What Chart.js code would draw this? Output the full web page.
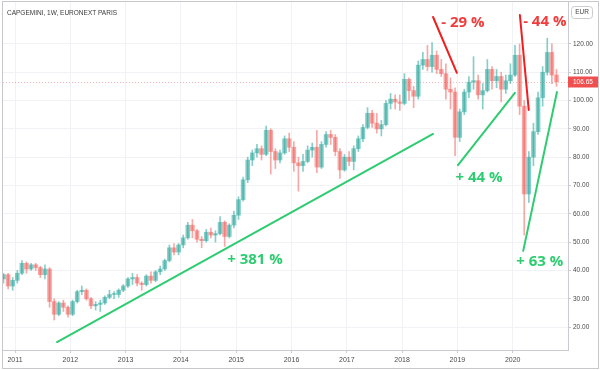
<!DOCTYPE html>
<html>
<head>
<script src="https://cdn.jsdelivr.net/npm/chart.js@4.4.0/dist/chart.umd.min.js"></script>
<style>
body { margin: 0; background: #ffffff; }
</style>
</head>
<body>

<canvas id="priceCanvas" width="600" height="370"></canvas>

<script>
// monthly candles, Oct 2010 .. Oct 2020
var firstYear = 2010;
var firstMonth = 10;

var opens = [
	37, 38.5, 34.5,
	36.5, 39, 42.5, 40.5, 42, 41, 38.5, 40.5, 29, 24.5, 28.5, 27,
	24.5, 29, 32.5, 33, 30, 27.5, 28, 28.5, 30.5, 31.5, 31.5, 33,
	34.5, 37, 37.5, 35.5, 35, 38, 36.5, 39.5, 40.5, 43.5, 48, 46.5,
	49, 51.5, 56, 54, 51, 50.5, 53.5, 52.5, 53, 57, 52, 56,
	59.5, 65, 72, 79, 81.5, 83, 81, 89.5, 82, 79, 81.5, 86.5,
	83.5, 78, 77, 78.5, 82.5, 83.5, 76.5, 84.5, 88, 87, 82, 75.5,
	80, 78.5, 83, 86.5, 90.5, 95.5, 92, 90, 91.5, 99, 100.5, 99.5,
	99, 107.5, 103.5, 101.5, 112.5, 114.5, 112, 116, 111, 109.5, 104, 103,
	87, 96, 103, 106.5, 107, 102, 103.5, 111, 107, 108.5, 104, 107,
	109, 116, 98, 67, 80, 89, 101, 110, 117, 109
];
var highs = [
	39, 39, 37.5,
	40, 43.5, 43, 42.5, 42.5, 41.5, 42, 41, 30, 29, 29.5, 27.5,
	29.5, 33, 34.5, 33.5, 30.5, 29, 29.5, 31, 33, 32.5, 33.5, 35,
	37.5, 39, 38.5, 36, 38.5, 39.5, 40, 41.5, 44, 49, 49.5, 49.5,
	52.5, 57, 58, 54.5, 52, 54.5, 55, 54, 59, 57.5, 56.5, 61,
	66, 73, 80, 82.5, 84.5, 84, 91, 90, 83, 82.5, 87.5, 88.5,
	85.5, 80, 81, 84, 85, 89.5, 85.5, 89, 89.5, 88, 83, 81,
	82, 84, 87.5, 91.5, 97.5, 96.5, 95.5, 93, 100, 102.5, 102, 102,
	109.5, 108, 105, 114, 117, 119.5, 120.5, 117.5, 114.5, 113, 108, 104.5,
	97, 104, 108.5, 115.5, 109, 106, 114.5, 112, 111, 110, 109, 113,
	119.5, 120, 100, 82, 92, 103, 112, 122, 120, 111
];
var lows = [
	35.5, 33.5, 33,
	35.5, 38.5, 39, 40, 40, 37.5, 37, 27, 22.5, 24, 25.5, 23.5,
	24, 28.5, 31.5, 29.5, 26.5, 26, 25.5, 28, 30, 30, 30.5, 32.5,
	34, 35, 34.5, 33, 34.5, 35.5, 36, 38.5, 40, 43, 45.5, 45.5,
	48, 51, 51.5, 50, 48, 50, 51.5, 50, 52.5, 48.5, 51.5, 55,
	58, 64.5, 71, 77, 80, 79, 80.5, 74, 76, 78, 81, 82,
	75, 68, 75, 78, 80, 74.5, 76, 83.5, 84.5, 80.5, 72.5, 75,
	77, 75.5, 82, 85.5, 90, 90.5, 88.5, 87.5, 91, 97, 97, 96.5,
	98.5, 100, 97.5, 100.5, 111, 110.5, 110, 109.5, 108.5, 100.5, 97, 80.5,
	85.5, 95, 101, 104, 100.5, 97, 103, 104, 104.5, 99.5, 102.5, 106,
	108.5, 95, 52.5, 64, 77, 88, 98, 109, 106, 105
];
var closes = [
	38.5, 34.5, 36.5,
	39, 42.5, 40.5, 42, 41, 38.5, 40.5, 29, 24.5, 28.5, 27, 24.5,
	29, 32.5, 33, 30, 27.5, 28, 28.5, 30.5, 31.5, 31.5, 33, 34.5,
	37, 37.5, 35.5, 35, 38, 36.5, 39.5, 40.5, 43.5, 48, 46.5, 49,
	51.5, 56, 54, 51, 50.5, 53.5, 52.5, 53, 57, 52, 56, 59.5,
	65, 72, 79, 81.5, 83, 81, 89.5, 82, 79, 81.5, 86.5, 83.5,
	78, 77, 78.5, 82.5, 83.5, 76.5, 84.5, 88, 87, 82, 75.5, 80,
	78.5, 83, 86.5, 90.5, 95.5, 92, 90, 91.5, 99, 100.5, 99.5, 99,
	107.5, 103.5, 101.5, 112.5, 114.5, 112, 116, 111, 109.5, 104, 103, 87,
	96, 103, 106.5, 107, 102, 103.5, 111, 107, 108.5, 104, 107, 109,
	116, 98, 67, 80, 89, 101, 110, 117, 109, 106.65
];

var yearTicks = [2011, 2012, 2013, 2014, 2015, 2016, 2017, 2018, 2019, 2020];
var priceTicks = [20, 30, 40, 50, 60, 70, 80, 90, 100, 110, 120];
var lastPrice = 106.65;

// hand drawn trend lines, [year, price]
var trendLines = [
	{ from: [2011.76, 14.7], to: [2018.56, 88.2], color: "#2ecc71" },
	{ from: [2019.01, 77.2], to: [2020.04, 102.7], color: "#2ecc71" },
	{ from: [2020.19, 46.9], to: [2020.80, 103.0], color: "#2ecc71" },
	{ from: [2018.56, 129.5], to: [2018.99, 109.8], color: "#f01e1e" },
	{ from: [2020.13, 130.2], to: [2020.29, 96.7], color: "#f01e1e" }
];
var trendLabels = [
	{ text: "+ 381 %", at: [2015.34, 43.7], color: "#2ecc71" },
	{ text: "+ 44 %", at: [2019.39, 72.7], color: "#2ecc71" },
	{ text: "+ 63 %", at: [2020.49, 43.0], color: "#2ecc71" },
	{ text: "- 29 %", at: [2019.10, 127.4], color: "#f23b3b" },
	{ text: "- 44 %", at: [2020.58, 127.8], color: "#f23b3b" }
];

var UP = "rgba(38,166,154,0.55)";
var DOWN = "rgba(239,83,80,0.5)";
var FONT = "'Liberation Sans', Arial, sans-serif";

Chart.defaults.font.family = FONT;

function monthPos(i)
{
	var m = firstMonth - 1 + i;
	return firstYear + Math.floor(m / 12) + ((m % 12) + 0.5) / 12;
}

var wicks = [];
var bodies = [];
for (var i = 0; i < closes.length; i++)
{
	wicks.push({ x: monthPos(i), y: [lows[i], highs[i]] });
	bodies.push({ x: monthPos(i), y: [Math.min(opens[i], closes[i]), Math.max(opens[i], closes[i])] });
}

function candleColor(ctx)
{
	var i = ctx.dataIndex;
	return closes[i] >= opens[i] ? UP : DOWN;
}

var overlay = {
	id: "overlay",
	beforeDatasetsDraw: function(chart) {
		var c = chart.ctx, a = chart.chartArea;
		var y = chart.scales.y.getPixelForValue(lastPrice);
		c.save();
		c.strokeStyle = "rgba(239,83,80,0.4)";
		c.lineWidth = 1;
		c.setLineDash([1, 2]);
		c.beginPath();
		c.moveTo(a.left, Math.round(y) + 0.5);
		c.lineTo(a.right, Math.round(y) + 0.5);
		c.stroke();
		c.restore();
	},
	afterDatasetsDraw: function(chart) {
		var c = chart.ctx;
		var sx = chart.scales.x, sy = chart.scales.y;
		c.save();
		c.lineWidth = 2;
		c.lineCap = "round";
		trendLines.forEach(function(l) {
			c.strokeStyle = l.color;
			c.beginPath();
			c.moveTo(sx.getPixelForValue(l.from[0]), sy.getPixelForValue(l.from[1]));
			c.lineTo(sx.getPixelForValue(l.to[0]), sy.getPixelForValue(l.to[1]));
			c.stroke();
		});
		c.font = "bold 15px 'Open Sans', sans-serif";
		c.textAlign = "center";
		c.textBaseline = "middle";
		trendLabels.forEach(function(t) {
			c.fillStyle = t.color;
			c.fillText(t.text, sx.getPixelForValue(t.at[0]), sy.getPixelForValue(t.at[1]));
		});
		c.restore();
	},
	afterDraw: function(chart) {
		var c = chart.ctx, a = chart.chartArea;
		var y = chart.scales.y.getPixelForValue(lastPrice);
		c.save();
		// last price tag
		c.fillStyle = "#ef4f4f";
		c.fillRect(a.right, Math.round(y) - 5.5, 30, 11);
		c.fillStyle = "#ffffff";
		c.font = "6.5px " + FONT;
		c.textAlign = "left";
		c.textBaseline = "middle";
		c.fillText(lastPrice.toFixed(2), a.right + 5, Math.round(y));
		// currency box
		c.strokeStyle = "#c9cbd1";
		c.lineWidth = 1;
		c.beginPath();
		c.roundRect(571.5, 6.5, 21, 12, 3);
		c.stroke();
		c.fillStyle = "#444";
		c.textAlign = "center";
		c.fillText("EUR", 582, 12.5);
		// symbol line
		c.textAlign = "left";
		c.fillStyle = "#3a3a3a";
		c.fillText("CAPGEMINI, 1W, EURONEXT PARIS", 7, 13);
		// frame
		c.strokeStyle = "#c8c8cc";
		c.strokeRect(2.5, 1.5, 596, 367);
		c.restore();
	}
};

new Chart("priceCanvas", {
	type: "bar",
	data: {
		datasets: [
			{ data: wicks, backgroundColor: candleColor, barThickness: 1, grouped: false, order: 2 },
			{ data: bodies, backgroundColor: candleColor, barThickness: 4, minBarLength: 1, grouped: false, order: 1 }
		]
	},
	options: {
		responsive: false,
		animation: false,
		layout: { padding: { left: 3, top: 2, right: 2, bottom: 1 } },
		plugins: { legend: { display: false }, tooltip: { enabled: false } },
		scales: {
			x: {
				type: "linear",
				position: "bottom",
				min: 2010.783,
				max: 2021.0,
				offset: false,
				grid: { color: "#f1f2f6", offset: false, tickLength: 3, tickColor: "#c9cbd1" },
				border: { color: "#c9cbd1" },
				ticks: {
					color: "#4a4a4a",
					font: { size: 7 },
					padding: 3,
					maxRotation: 0,
					callback: function(v) { return String(v); }
				},
				afterBuildTicks: function(scale) {
					scale.ticks = yearTicks.map(function(v) { return { value: v }; });
				},
				afterFit: function(scale) {
					scale.height = 19;
					scale.paddingLeft = 0;
					scale.paddingRight = 0;
				}
			},
			y: {
				type: "linear",
				position: "right",
				min: 11.9,
				max: 134.8,
				grid: { color: "#f1f2f6", tickLength: 3, tickColor: "#c9cbd1" },
				border: { color: "#c9cbd1" },
				ticks: {
					color: "#4a4a4a",
					font: { size: 6.5 },
					padding: 2,
					callback: function(v) { return v.toFixed(2); }
				},
				afterBuildTicks: function(scale) {
					scale.ticks = priceTicks.map(function(v) { return { value: v }; });
				},
				afterFit: function(scale) {
					scale.width = 30;
					scale.paddingTop = 0;
					scale.paddingBottom = 0;
				}
			}
		}
	},
	plugins: [overlay]
});
</script>

</body>
</html>
